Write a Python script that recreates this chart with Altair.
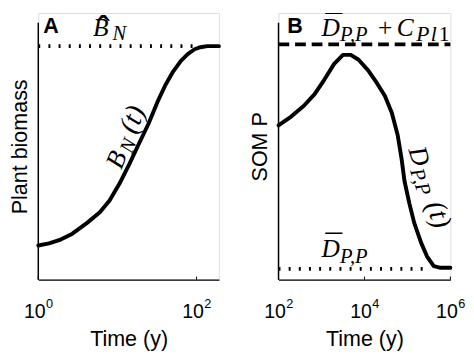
import altair as alt
import pandas as pd

SANS = "Liberation Sans"
SERIF = "Liberation Serif"

# ---------------- Panel A : plant biomass ----------------
a_time = [1, 1.37, 1.92, 2.7, 4.14, 6.0, 7.96, 10.6, 14.1, 18.7, 24.8, 33.0,
          40.3, 50.6, 63.5, 77.4, 94.5, 112, 137, 192]
a_biomass = [0.133, 0.141, 0.156, 0.179, 0.221, 0.262, 0.308, 0.373, 0.449,
             0.529, 0.608, 0.700, 0.757, 0.810, 0.852, 0.878, 0.897, 0.905,
             0.909, 0.909]
a_eq_level = 0.909          # \hat B_N
a_eq_span = [1, 100]
a_ticks = [1, 100]
a_exps = ["0", "2"]
a_x_domain = [1, 192]

# ---------------- Panel B : SOM P ----------------
b_time = [100, 197, 390, 693, 1170, 1973, 3162, 4810, 7310, 12330, 19740,
          30000, 43300, 59300, 73100, 85500, 111000, 144000, 208000, 285000,
          411000, 593000, 1000000]
b_som = [0.601, 0.635, 0.677, 0.722, 0.779, 0.840, 0.875, 0.875, 0.856, 0.814,
         0.764, 0.715, 0.650, 0.563, 0.471, 0.384, 0.297, 0.221, 0.144, 0.091,
         0.053, 0.046, 0.046]
b_upper_level = 0.916       # \bar D_{P,P} + C_{Pl1}
b_upper_span = [100, 1000000]
b_lower_level = 0.042       # \bar D_{P,P}
b_lower_span = [100, 300000]
b_ticks = [100, 10000, 1000000]
b_exps = ["2", "4", "6"]
b_x_domain = [100, 1000000]

y_domain = [0, 1.038]

# ---------------- text ----------------
x_title = "Time (y)"
a_y_title = "Plant biomass"
b_y_title = "SOM P"
panel_labels = ["A", "B"]

# annotation anchors (time, value)
a_label_at = (1.153, 0.962)
a_eq_label_at = (4.91, 0.947)
a_curve_label_at = (11.2, 0.426)
b_label_at = (160, 0.962)
b_upper_label_at = (1000, 0.947)
b_lower_label_at = (1000, 0.087)
b_curve_label_at = (105000, 0.506)


def X(domain, ticks):
    return alt.X("t:Q", scale=alt.Scale(type="log", domain=domain, nice=False),
                 axis=alt.Axis(values=ticks, labelExpr="'10'", title=x_title,
                               ticks=False, labelPadding=23, labelOffset=-4,
                               labelFontSize=20, labelFont=SANS,
                               labelColor="black", titleFont=SANS,
                               titleFontSize=22, titleFontWeight="normal",
                               titleColor="black", titlePadding=7,
                               domainColor="black", domainWidth=1.5,
                               grid=False, labelFlush=False))


def Y(title):
    return alt.Y("v:Q", scale=alt.Scale(domain=y_domain, nice=False, zero=False),
                 axis=alt.Axis(title=title, domain=False, ticks=False,
                               labels=False, grid=False, titleFont=SANS,
                               titleFontSize=22, titleFontWeight="normal",
                               titleColor="black", titlePadding=7))


def piece(at, text, size, Xe, Ye, dx=0, dy=0, angle=0, italic=True,
          weight="normal", font=SERIF, clip=False):
    kw = dict(text=text, fontSize=size, dx=dx, dy=dy, font=font,
              fontStyle="italic" if italic else "normal", fontWeight=weight,
              align="left", baseline="alphabetic", color="black")
    if angle:
        kw["angle"] = angle
    if clip:
        kw["clip"] = True
    df = pd.DataFrame({"t": [at[0]], "v": [at[1]]})
    return alt.Chart(df).mark_text(**kw).encode(x=Xe, y=Ye)


def panel(time, vals, x_domain, ticks, exps, y_title):
    Xe = X(x_domain, ticks)
    Ye = Y(y_title)
    curve = alt.Chart(pd.DataFrame({"t": time, "v": vals})).mark_line(
        color="black", strokeWidth=4, strokeJoin="round", strokeCap="round"
    ).encode(x=Xe, y=Ye)
    yaxis = alt.Chart(pd.DataFrame({"t": [x_domain[0]], "v": [0.0], "v2": [1.0]})).mark_rule(
        color="black", strokeWidth=1.5).encode(x=Xe, y=Ye, y2="v2:Q")
    tickrules = alt.Chart(pd.DataFrame({"t": ticks, "v": [0.0] * len(ticks),
                                        "v2": [0.012] * len(ticks)})).mark_rule(
        color="black", strokeWidth=1).encode(x=Xe, y=Ye, y2="v2:Q")
    exps_layer = alt.Chart(pd.DataFrame({"t": ticks, "e": exps})).mark_text(
        font=SANS, fontSize=13, align="left", baseline="alphabetic", dx=8,
        color="black").encode(x=Xe, y=alt.value(302), text="e:N")
    return Xe, Ye, [curve, yaxis, tickrules, exps_layer]


# ---------------- Panel A ----------------
Xa, Ya, a_layers = panel(a_time, a_biomass, a_x_domain, a_ticks, a_exps, a_y_title)
a_dots = alt.Chart(pd.DataFrame({"t": a_eq_span, "v": [a_eq_level] * 2})).mark_line(
    color="black", strokeWidth=4, strokeDash=[2, 8.4]).encode(x=Xa, y=Ya)
a_text = [
    piece(a_label_at, panel_labels[0], 22, Xa, Ya, italic=False, weight="bold", font=SANS, clip=True),
    piece(a_eq_label_at, "B", 26, Xa, Ya, clip=True),
    piece(a_eq_label_at, "\u02c6", 40, Xa, Ya, dx=4, dy=7, italic=False, clip=True),
    piece(a_eq_label_at, "N", 21, Xa, Ya, dx=20, dy=4),
    piece(a_curve_label_at, "B", 27, Xa, Ya, angle=292),
    piece(a_curve_label_at, "N", 21, Xa, Ya, dx=19, dy=4, angle=292),
    piece(a_curve_label_at, "(t)", 29, Xa, Ya, dx=39, angle=292),
]
chart_a = alt.layer(a_dots, *a_layers, *a_text).properties(width=185, height=273)

# ---------------- Panel B ----------------
Xb, Yb, b_layers = panel(b_time, b_som, b_x_domain, b_ticks, b_exps, b_y_title)
b_dash = alt.Chart(pd.DataFrame({"t": b_upper_span, "v": [b_upper_level] * 2})).mark_line(
    color="black", strokeWidth=4, strokeDash=[11, 6]).encode(x=Xb, y=Yb)
b_dots = alt.Chart(pd.DataFrame({"t": b_lower_span, "v": [b_lower_level] * 2})).mark_line(
    color="black", strokeWidth=4, strokeDash=[2, 8.4]).encode(x=Xb, y=Yb)
b_text = [
    piece(b_label_at, panel_labels[1], 22, Xb, Yb, italic=False, weight="bold", font=SANS, clip=True),
    # \bar D_{P,P} + C_{Pl1}
    piece(b_upper_label_at, "D", 26, Xb, Yb, clip=True),
    piece(b_upper_label_at, "\u00af", 34, Xb, Yb, dx=4, dy=2, italic=False, clip=True),
    piece(b_upper_label_at, "P,P", 21, Xb, Yb, dx=19, dy=5),
    piece(b_upper_label_at, "+", 26, Xb, Yb, dx=58, italic=False, clip=True),
    piece(b_upper_label_at, "C", 26, Xb, Yb, dx=77, clip=True),
    piece(b_upper_label_at, "P", 22, Xb, Yb, dx=97, dy=5),
    piece(b_upper_label_at, "l", 22, Xb, Yb, dx=112, dy=5),
    piece(b_upper_label_at, "1", 22, Xb, Yb, dx=120, dy=5, italic=False),
    # \bar D_{P,P}
    piece(b_lower_label_at, "D", 26, Xb, Yb),
    piece(b_lower_label_at, "\u00af", 34, Xb, Yb, dx=4, dy=1, italic=False, clip=True),
    piece(b_lower_label_at, "P,P", 21, Xb, Yb, dx=19, dy=6),
    # D_{P,P}(t) along the curve
    piece(b_curve_label_at, "D", 27, Xb, Yb, angle=72),
    piece(b_curve_label_at, "P,P", 21, Xb, Yb, dx=21, dy=5, angle=72),
    piece(b_curve_label_at, "(t)", 29, Xb, Yb, dx=59, angle=72),
]
chart_b = alt.layer(b_dash, b_dots, *b_layers, *b_text).properties(width=176, height=273)

chart = alt.hconcat(chart_a, chart_b, spacing=27).properties(
    padding={"left": 0, "top": 0, "right": 0, "bottom": 0}
).configure_view(stroke=None).configure(background="white")

chart.save("out.html", embed_options={"renderer": "svg", "actions": False})
